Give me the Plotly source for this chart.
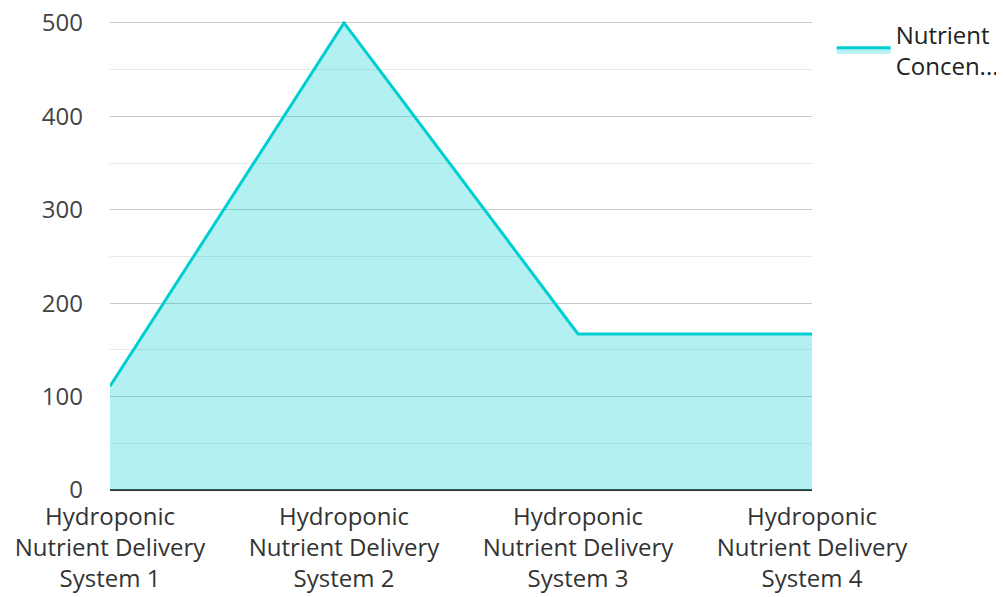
import plotly.graph_objects as go

categories = [
    "Hydroponic<br>Nutrient Delivery<br>System 1",
    "Hydroponic<br>Nutrient Delivery<br>System 2",
    "Hydroponic<br>Nutrient Delivery<br>System 3",
    "Hydroponic<br>Nutrient Delivery<br>System 4",
]
values = [111, 500, 167, 167]
series_name = "Nutrient<br>Concen..."
y_ticks = [0, 100, 200, 300, 400, 500]

fig = go.Figure()
fig.add_trace(go.Scatter(
    x=categories, y=values, mode="lines", name=series_name,
    line=dict(color="#00CED1", width=3),
    fill="tozeroy", fillcolor="rgba(0,206,209,0.3)",
))

fig.update_layout(
    width=1004, height=597,
    margin=dict(l=102, r=200, t=13, b=115, autoexpand=False),
    paper_bgcolor="white", plot_bgcolor="white",
    font=dict(family="Open Sans", size=24, color="#444"),
    showlegend=True,
    legend=dict(x=1.028, y=1.019, xanchor="left", yanchor="top",
                font=dict(size=24, color="#222"), bgcolor="rgba(0,0,0,0)",
                itemwidth=54),
    xaxis=dict(range=[0, 3], showgrid=False, ticks="", zeroline=False,
               automargin=False, ticklabelstandoff=10,
               tickfont=dict(size=24, color="#333"), showline=False),
    yaxis=dict(range=[0, 502], tickvals=y_ticks, showgrid=True,
               automargin=False, ticklabeloverflow="allow",
               gridcolor="#c8c8c8", gridwidth=1, zeroline=True,
               zerolinecolor="#333", zerolinewidth=2,
               minor=dict(dtick=50, showgrid=True, gridcolor="#e8e8e8", gridwidth=1),
               tickfont=dict(size=24, color="#444"), ticklabelstandoff=26),
)
fig.write_html("out.html")
